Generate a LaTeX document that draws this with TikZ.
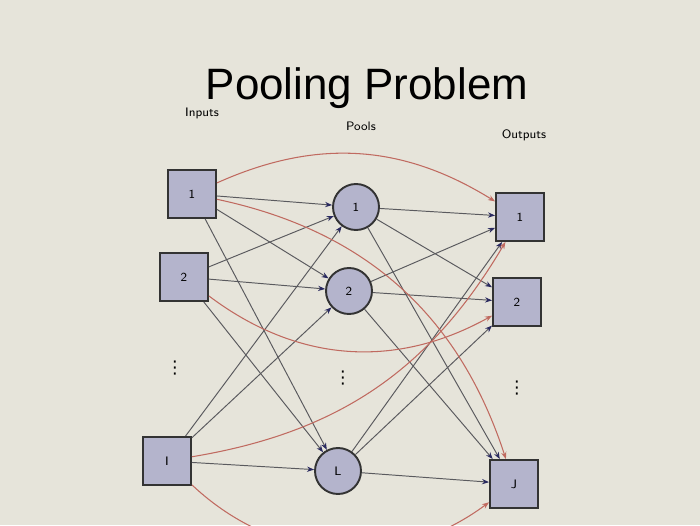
\documentclass[tikz,border=0pt]{standalone}
\usepackage{amsmath}
\usepackage{fontspec}
\newfontfamily\titlefont{Liberation Sans}
\newfontfamily\dotsfont{DejaVu Sans}
\usepackage{tikz}
\usetikzlibrary{arrows.meta,positioning}
\usepackage{color}

\definecolor{nodefill}{HTML}{B4B4CC}
\definecolor{nodeline}{HTML}{333333}
\definecolor{edgegray}{HTML}{5A5A5E}
\definecolor{tipblue}{HTML}{2A2A60}
\definecolor{arcred}{HTML}{C06A60}
\definecolor{screen}{HTML}{E6E4DA}

\begin{document}
\begin{tikzpicture}[-,
  inbox/.style={draw=nodeline,fill=nodefill,line width=1.1pt,minimum size=0.96cm,inner sep=0pt,font=\sffamily\scriptsize},
  poolnode/.style={circle,draw=nodeline,fill=nodefill,line width=1.1pt,minimum size=0.92cm,inner sep=0pt,font=\sffamily\scriptsize},
  flow/.style={edgegray,line width=0.55pt,-{Stealth[length=4pt,width=3pt,color=tipblue]}},
  direct/.style={arcred,line width=0.6pt,-{Stealth[length=4pt,width=3pt]}},
  head/.style={font=\sffamily\scriptsize},
  more/.style={font=\dotsfont\normalsize,inner sep=0pt}]

\fill[screen] (0,0) rectangle (14,10.5);
\useasboundingbox (0,0) rectangle (14,10.5);

\node (title) at (7.34,8.74) {\titlefont\fontsize{25}{30}\selectfont Pooling Problem};
\node[head] (inputs) at (4.04,8.24) {Inputs};
\node[head] (pools) at (7.22,7.98) {Pools};
\node[head] (outputs) at (10.48,7.8) {Outputs};

% inputs
\node[inbox] (i1) at (3.84,6.62) {1};
\node[inbox] (i2) at (3.68,4.96) {2};
\node[more] (idots) at (3.5,3.14) {⋮};
\node[inbox] (iI) at (3.34,1.28) {I};

% pools
\node[poolnode] (p1) at (7.12,6.36) {1};
\node[poolnode] (p2) at (6.98,4.68) {2};
\node[more] (pdots) at (6.86,2.94) {⋮};
\node[poolnode] (pL) at (6.76,1.08) {L};

% outputs
\node[inbox] (o1) at (10.4,6.16) {1};
\node[inbox] (o2) at (10.34,4.46) {2};
\node[more] (odots) at (10.34,2.74) {⋮};
\node[inbox] (oJ) at (10.28,0.82) {J};

\foreach \a in {i1,i2,iI}
  \foreach \b in {p1,p2,pL}
    \draw[flow] (\a) -- (\b);

\foreach \a in {p1,p2,pL}
  \foreach \b in {o1,o2,oJ}
    \draw[flow] (\a) -- (\b);

\draw[direct] (i1) to [bend left=28] (o1);
\draw[direct] (i1) to [bend left=30] (oJ);
\draw[direct] (i2) to [bend right=33] (o2);
\draw[direct] (iI) to [bend right=25] (o1);
\draw[direct] (iI) to [bend right=40] (oJ);

\end{tikzpicture}
\end{document}
